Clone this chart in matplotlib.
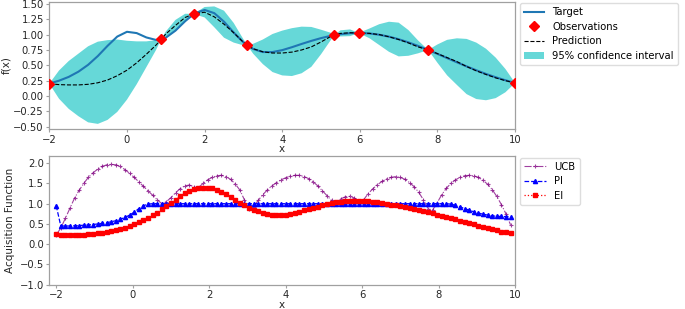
import numpy as np
import matplotlib
matplotlib.use("Agg")
import matplotlib.pyplot as plt

plt.rcParams['font.family'] = ['DejaVu Sans']
plt.rcParams['font.size'] = 7.2

# ---------------- upper panel data ----------------
target_x = [-2.0, -1.75, -1.5, -1.25, -1.0, -0.75, -0.5, -0.25, 0.0, 0.25, 0.5, 0.75,
            1.0, 1.25, 1.5, 1.75, 2.0, 2.25, 2.5, 2.75, 3.0, 3.25, 3.5, 3.75, 4.0,
            4.25, 4.5, 4.75, 5.0, 5.25, 5.5, 5.75, 6.0, 6.25, 6.5, 6.75, 7.0, 7.25,
            7.5, 7.75, 8.0, 8.25, 8.5, 8.75, 9.0, 9.25, 9.5, 9.75, 10.0]
target_y = [0.202, 0.249, 0.311, 0.396, 0.508, 0.651, 0.817, 0.968, 1.046, 1.025, 0.954, 0.913,
            0.950, 1.065, 1.219, 1.350, 1.402, 1.350, 1.211, 1.034, 0.875, 0.766, 0.716, 0.716, 0.747,
            0.795, 0.848, 0.898, 0.943, 0.980, 1.007, 1.023, 1.027, 1.019, 0.998, 0.967, 0.925, 0.874,
            0.816, 0.753, 0.686, 0.617, 0.549, 0.482, 0.419, 0.359, 0.305, 0.256, 0.212]

obs_x = [-2.0, 0.88, 1.72, 3.10, 5.34, 5.97, 7.76, 10.0]
obs_y = [0.202, 0.921, 1.337, 0.824, 0.991, 1.027, 0.750, 0.212]

gp_x = [-2.0, -1.75, -1.5, -1.25, -1.0, -0.75, -0.5, -0.25, 0.0, 0.25, 0.5, 0.75, 0.88,
        1.0, 1.25, 1.5, 1.72, 2.0, 2.25, 2.5, 2.75, 3.0, 3.1, 3.25, 3.5, 3.75, 4.0,
        4.25, 4.5, 4.75, 5.0, 5.25, 5.34, 5.5, 5.75, 5.97, 6.25, 6.5, 6.75, 7.0,
        7.25, 7.5, 7.76, 8.0, 8.25, 8.5, 8.75, 9.0, 9.25, 9.5, 9.75, 10.0]
gp_mean = [0.20, 0.185, 0.18, 0.18, 0.19, 0.215, 0.26, 0.33, 0.42, 0.54, 0.68, 0.83, 0.921,
           1.01, 1.15, 1.28, 1.337, 1.365, 1.29, 1.17, 1.03, 0.875, 0.824, 0.77, 0.72, 0.70, 0.70,
           0.715, 0.75, 0.80, 0.88, 0.97, 0.991, 1.02, 1.03, 1.027, 1.02, 1.0, 0.965, 0.92,
           0.865, 0.80, 0.750, 0.69, 0.625, 0.56, 0.48, 0.41, 0.35, 0.295, 0.25, 0.212]
gp_half = [0.0, 0.23, 0.39, 0.51, 0.62, 0.67, 0.65, 0.59, 0.48, 0.35, 0.21, 0.08, 0.0,
           0.04, 0.09, 0.06, 0.0, 0.085, 0.17, 0.22, 0.16, 0.05, 0.0, 0.08, 0.20, 0.31, 0.365,
           0.39, 0.38, 0.325, 0.20, 0.06, 0.0, 0.05, 0.055, 0.0, 0.08, 0.17, 0.245, 0.275,
           0.21, 0.105, 0.0, 0.15, 0.29, 0.38, 0.45, 0.46, 0.42, 0.33, 0.19, 0.0]

# ---------------- lower panel data ----------------
acq_x = [-2.00, -1.88, -1.76, -1.64, -1.52, -1.40, -1.28, -1.16, -1.04, -0.92,
         -0.80, -0.68, -0.56, -0.44, -0.32, -0.20, -0.08, 0.04, 0.16, 0.28,
         0.40, 0.52, 0.64, 0.76, 0.88, 1.00, 1.12, 1.24, 1.36, 1.48,
         1.60, 1.72, 1.84, 1.96, 2.08, 2.20, 2.32, 2.44, 2.56, 2.68,
         2.80, 2.92, 3.04, 3.16, 3.28, 3.40, 3.52, 3.64, 3.76, 3.88,
         4.00, 4.12, 4.24, 4.36, 4.48, 4.60, 4.72, 4.84, 4.96, 5.08,
         5.20, 5.32, 5.44, 5.56, 5.68, 5.80, 5.92, 6.04, 6.16, 6.28,
         6.40, 6.52, 6.64, 6.76, 6.88, 7.00, 7.12, 7.24, 7.36, 7.48,
         7.60, 7.72, 7.84, 7.96, 8.08, 8.20, 8.32, 8.44, 8.56, 8.68,
         8.80, 8.92, 9.04, 9.16, 9.28, 9.40, 9.52, 9.64, 9.76, 9.88]
ucb = [0.23, 0.40, 0.64, 0.89, 1.14, 1.33, 1.50, 1.65, 1.76, 1.85,
       1.92, 1.96, 1.97, 1.96, 1.92, 1.84, 1.75, 1.65, 1.54, 1.43,
       1.32, 1.21, 1.10, 1.00, 1.05, 1.15, 1.27, 1.37, 1.44, 1.46,
       1.42, 1.40, 1.50, 1.59, 1.65, 1.69, 1.70, 1.67, 1.60, 1.49,
       1.34, 1.10, 0.88, 0.92, 1.08, 1.22, 1.34, 1.44, 1.52, 1.59,
       1.64, 1.68, 1.70, 1.70, 1.67, 1.62, 1.54, 1.44, 1.32, 1.20,
       1.08, 1.03, 1.12, 1.17, 1.18, 1.14, 1.06, 1.10, 1.25, 1.37,
       1.47, 1.55, 1.61, 1.65, 1.67, 1.65, 1.60, 1.52, 1.42, 1.28,
       1.10, 0.88, 0.84, 1.02, 1.22, 1.38, 1.50, 1.59, 1.65, 1.69,
       1.70, 1.69, 1.65, 1.58, 1.48, 1.35, 1.18, 0.98, 0.75, 0.48]
pi = [0.95, 0.45, 0.45, 0.45, 0.455, 0.46, 0.47, 0.475, 0.485, 0.50,
      0.515, 0.53, 0.555, 0.58, 0.62, 0.66, 0.72, 0.79, 0.88, 0.95,
      0.99, 1.0, 1.0, 1.0, 1.0, 1.0, 1.0, 1.0, 1.0, 1.0,
      1.0, 1.0, 1.0, 1.0, 1.0, 1.0, 1.0, 1.0, 1.0, 1.0,
      1.0, 1.0, 1.0, 1.0, 1.0, 1.0, 1.0, 1.0, 1.0, 1.0,
      1.0, 1.0, 1.0, 1.0, 1.0, 1.0, 1.0, 1.0, 1.0, 1.0,
      1.0, 1.0, 1.0, 1.0, 1.0, 1.0, 1.0, 1.0, 1.0, 1.0,
      1.0, 1.0, 1.0, 1.0, 1.0, 1.0, 1.0, 1.0, 1.0, 1.0,
      1.0, 1.0, 1.0, 1.0, 1.0, 1.0, 0.99, 0.96, 0.92, 0.88,
      0.84, 0.80, 0.77, 0.74, 0.72, 0.70, 0.69, 0.685, 0.68, 0.68]
ei = [0.24, 0.23, 0.225, 0.22, 0.22, 0.225, 0.23, 0.24, 0.25, 0.265,
      0.28, 0.30, 0.32, 0.35, 0.38, 0.41, 0.45, 0.49, 0.54, 0.59,
      0.65, 0.71, 0.78, 0.86, 0.94, 1.02, 1.10, 1.18, 1.26, 1.32,
      1.36, 1.38, 1.39, 1.40, 1.38, 1.34, 1.29, 1.23, 1.16, 1.09,
      1.02, 0.96, 0.90, 0.85, 0.81, 0.77, 0.74, 0.72, 0.71, 0.71,
      0.72, 0.74, 0.77, 0.80, 0.84, 0.87, 0.90, 0.93, 0.96, 0.99,
      1.01, 1.03, 1.05, 1.06, 1.07, 1.075, 1.075, 1.07, 1.06, 1.05,
      1.035, 1.02, 1.00, 0.98, 0.96, 0.94, 0.92, 0.90, 0.87, 0.85,
      0.82, 0.79, 0.76, 0.73, 0.70, 0.67, 0.64, 0.61, 0.58, 0.55,
      0.52, 0.49, 0.46, 0.43, 0.40, 0.37, 0.34, 0.31, 0.29, 0.27]

# ---------------- figure ----------------
fig = plt.figure(figsize=(6.85, 3.09), dpi=100)
ax1 = fig.add_axes([0.072, 0.5816, 0.680, 0.413])
ax2 = fig.add_axes([0.072, 0.0787, 0.680, 0.418])

spine_col = '#a0a0a0'
for ax in (ax1, ax2):
    for s in ax.spines.values():
        s.set_color(spine_col)
        s.set_linewidth(0.9)
    ax.tick_params(colors='#262626', labelsize=7.2, length=2.5, width=0.8, pad=1.5)
    ax.tick_params(axis='both', color=spine_col)

gm = np.array(gp_mean)
gh = np.array(gp_half)
ax1.fill(np.concatenate([gp_x, gp_x[::-1]]),
         np.concatenate([gm - gh, (gm + gh)[::-1]]),
         alpha=0.6, fc='c', ec='None', label='95% confidence interval', zorder=1)
ax1.plot(target_x, target_y, color='#1f77b4', linewidth=1.5, label='Target', zorder=2)
ax1.plot(gp_x, gp_mean, '--', color='k', linewidth=0.8, label='Prediction', zorder=3)
ax1.plot(obs_x, obs_y, 'D', markersize=4.6, color='r', label='Observations', zorder=4)
ax1.set_xlim(-2, 10)
ax1.set_ylim(-0.543, 1.537)
ax1.set_yticks([-0.5, -0.25, 0.0, 0.25, 0.5, 0.75, 1.0, 1.25, 1.5])
ax1.set_yticklabels(['\u22120.50', '\u22120.25', '0.00', '0.25', '0.50', '0.75', '1.00', '1.25', '1.50'])
ax1.set_xticks([-2, 0, 2, 4, 6, 8, 10])
ax1.set_xticklabels(['\u22122', '0', '2', '4', '6', '8', '10'])
ax1.set_xlabel('x', fontsize=7.5, labelpad=-0.5, color='#262626')
ax1.set_ylabel('f(x)', fontsize=7.5, labelpad=1, color='#262626')
h, l = ax1.get_legend_handles_labels()
order = [l.index('Target'), l.index('Observations'), l.index('Prediction'), l.index('95% confidence interval')]
leg1 = ax1.legend([h[i] for i in order], [l[i] for i in order],
                  loc='upper left', bbox_to_anchor=(1.005, 1.01), fontsize=7.2,
                  handlelength=2.0, borderaxespad=0.3, labelspacing=0.45, framealpha=1)
leg1.get_frame().set_edgecolor('#dddddd')

ax2.plot(acq_x, ucb, '-.+', color='purple', alpha=0.75, linewidth=0.8, markersize=3.5,
         markeredgewidth=0.8, label='UCB')
ax2.plot(acq_x, pi, '--^', color='b', linewidth=0.9, markersize=3, label='PI')
ax2.plot(acq_x, ei, ':s', color='r', linewidth=0.9, markersize=3.2, label='EI')
ax2.set_xlim(-2.18, 10)
ax2.set_ylim(-1.0, 2.19)
ax2.set_yticks([-1.0, -0.5, 0.0, 0.5, 1.0, 1.5, 2.0])
ax2.set_yticklabels(['\u22121.0', '\u22120.5', '0.0', '0.5', '1.0', '1.5', '2.0'])
ax2.set_xticks([-2, 0, 2, 4, 6, 8, 10])
ax2.set_xticklabels(['\u22122', '0', '2', '4', '6', '8', '10'])
ax2.set_xlabel('x', fontsize=7.5, labelpad=-0.5, color='#262626')
ax2.set_ylabel('Acquisition Function', fontsize=7.5, labelpad=3, color='#262626')
leg2 = ax2.legend(loc='upper left', bbox_to_anchor=(1.005, 1.005), fontsize=7.2,
                  handlelength=2.2, borderaxespad=0.3, labelspacing=0.45, framealpha=1)
leg2.get_frame().set_edgecolor('#dddddd')

fig.savefig('out.png', dpi=100)
